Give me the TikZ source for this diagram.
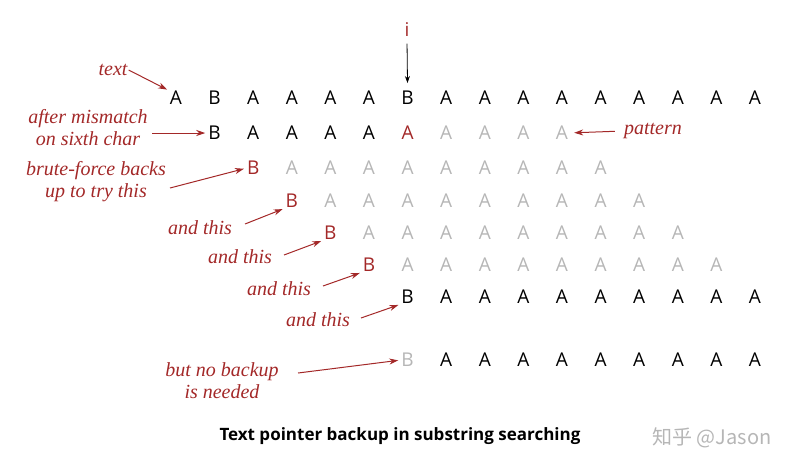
\documentclass[tikz,border=0pt]{standalone}
\usepackage{fontspec}
\setmainfont{Liberation Serif}
\setsansfont{Open Sans}
\newfontfamily\cjk{Noto Sans CJK SC}
\usetikzlibrary{arrows.meta}
\definecolor{dred}{RGB}{163,40,40}
\definecolor{lgray}{RGB}{182,182,182}
\tikzset{
 ch/.style={font=\sffamily\fontsize{19}{19}\selectfont,inner sep=0pt,anchor=center},
 lab/.style={font=\itshape\fontsize{20}{22}\selectfont,text=dred,align=center,inner sep=1pt},
 arr/.style={dred,line width=1pt,-{Stealth[length=9pt,width=6pt]},shorten >=3pt},
}
\begin{document}
\begin{tikzpicture}[x=1pt,y=-1pt]
\useasboundingbox (0,0) rectangle (788,472);
\def\cx#1{176+38.6*(#1)}
% row 0 text
\foreach \c/\l in {0/A,1/B,2/A,3/A,4/A,5/A,6/B,7/A,8/A,9/A,10/A,11/A,12/A,13/A,14/A,15/A}
  \node[ch] (t\c) at ({\cx{\c}},98) {\l};
% row 1
\node[ch] (p1) at ({\cx{1}},133) {B};
\foreach \c in {2,...,5} \node[ch] (r1a\c) at ({\cx{\c}},133) {A};
\node[ch,text=dred] (r1a6) at ({\cx{6}},133) {A};
\foreach \c in {7,...,10} \node[ch,text=lgray] (r1a\c) at ({\cx{\c}},133) {A};
% rows 2-5
\foreach \r/\y in {2/168,3/201,4/233,5/265}{
  \node[ch,text=dred] (p\r) at ({\cx{\r}},\y) {B};
  \foreach \k in {1,...,9} \node[ch,text=lgray] at ({\cx{\r+\k}},\y) {A};
}
% row 6
\node[ch] (p6) at ({\cx{6}},297) {B};
\foreach \k in {7,...,15} \node[ch] at ({\cx{\k}},297) {A};
% row 7
\node[ch,text=lgray] (p7) at ({\cx{6}},360) {B};
\foreach \k in {7,...,15} \node[ch] at ({\cx{\k}},360) {A};
% i pointer
\node[font=\sffamily\fontsize{19}{19}\selectfont,text=dred] (i) at (407,30) {i};
\draw[line width=0.8pt,-{Stealth[length=7pt,width=5pt]},shorten <=3pt,shorten >=8pt] (i.south) -- (t6.north);
% labels
\node[lab] (ltext) at (113,70) {text};
\draw[arr] (ltext.east) -- (t0.north west);
\node[lab] (lmis) at (88,128) {after mismatch\\on sixth char};
\coordinate (m1) at (152,133);
\draw[arr] (m1) -- (p1.west);
\node[lab] (lpat) at (653,131) {pattern};
\draw[arr,shorten <=8pt,shorten >=6pt] (lpat.west) -- (r1a10.east);
\node[lab] (lbf) at (96,182) {brute-force backs\\up to try this};
\coordinate (b1) at (170,188);
\draw[arr] (b1) -- (p2.west);
\node[lab] (l3) at (200,228) {and this};
\coordinate (c3) at (245,224);
\draw[arr] (c3) -- (p3.south west);
\node[lab] (l4) at (240,257) {and this};
\coordinate (c4) at (284,255);
\draw[arr] (c4) -- (p4.south west);
\node[lab] (l5) at (279,289) {and this};
\coordinate (c5) at (323,286);
\draw[arr] (c5) -- (p5.south west);
\node[lab] (l6) at (318,320) {and this};
\coordinate (c6) at (361,318);
\draw[arr] (c6) -- (p6.south west);
\node[lab] (lno) at (222,381) {but no backup\\is needed};
\coordinate (n1) at (298,373);
\draw[arr] (n1) -- (p7.west);
% caption
\node[font=\sffamily\bfseries\fontsize{17}{17}\selectfont] (cap) at (400,436) {Text pointer backup in substring searching};
\node[font=\cjk\fontsize{20}{20}\selectfont,text=lgray] (wm) at (712,438) {知乎 @Jason};
\end{tikzpicture}
\end{document}
